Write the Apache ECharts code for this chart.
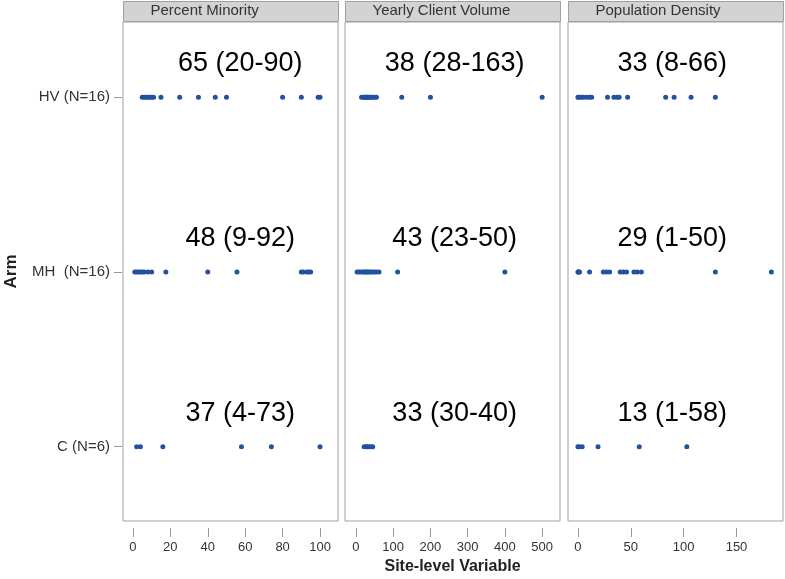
<!DOCTYPE html>
<html><head><meta charset="utf-8">
<script src="https://cdn.jsdelivr.net/npm/echarts@6/dist/echarts.min.js"></script>
<style>html,body{margin:0;padding:0;background:#fff}#c{width:785px;height:579px}</style>
</head><body><div id="c"></div>
<script>
// Categories (bottom to top)
const arms = ['C (N=6)', 'MH  (N=16)', 'HV (N=16)'];
const panelTitles = ['Percent Minority', 'Yearly Client Volume', 'Population Density'];
const xTickLabels1 = [0, 20, 40, 60, 80, 100];
const xTickLabels2 = [0, 100, 200, 300, 400, 500];
const xTickLabels3 = [0, 50, 100, 150];

// Percent Minority
const pmHV = [5, 6, 7, 8, 9, 10, 11, 15, 25, 35, 44, 50, 80, 90, 99, 100];
const pmMH = [1, 2, 3, 4, 5, 6, 8, 10, 17.6, 40, 55.6, 90, 91, 93, 94, 95];
const pmC = [2, 4, 16, 58, 74, 100];
// Yearly Client Volume
const ycHV = [15, 20, 22, 25, 28, 30, 32, 35, 38, 40, 45, 50, 55, 123, 200, 500];
const ycMH = [3, 8, 12, 18, 22, 25, 28, 32, 36, 40, 45, 50, 55, 62, 112, 400];
const ycC = [22, 28, 30, 35, 40, 45];
// Population Density
const pdHV = [0, 1, 3, 5, 8, 11, 13, 28, 34, 37, 39, 47, 83, 91, 107, 130];
const pdMH = [0, 0.5, 1, 1.5, 11, 24, 27, 30, 40, 43, 46, 53, 56, 60, 130, 183];
const pdC = [0, 1, 4, 19, 58, 103];

// Annotations (per panel: C, MH, HV)
const annPM = ['37 (4-73)', '48 (9-92)', '65 (20-90)'];
const annYC = ['33 (30-40)', '43 (23-50)', '38 (28-163)'];
const annPD = ['13 (1-58)', '29 (1-50)', '33 (8-66)'];

const panels = [
  {title: panelTitles[0], ticks: xTickLabels1, min: -5.3, max: 109.6, data: [pmC, pmMH, pmHV], ann: annPM, shift: 0.045},
  {title: panelTitles[1], ticks: xTickLabels2, min: -29.4, max: 548, data: [ycC, ycMH, ycHV], ann: annYC, shift: 0.01},
  {title: panelTitles[2], ticks: xTickLabels3, min: -9.4, max: 194, data: [pdC, pdMH, pdHV], ann: annPD, shift: -0.015}
];
const gridLefts = [123, 345, 568];
const gridWidth = 215;
const gridTop = 22, gridHeight = 499;
const yMin = -0.425, yMax = 2.43;
const dotColor = '#2350a0';
const font = 'Liberation Sans, Arial, sans-serif';

const grid = [], xAxis = [], yAxis = [], series = [], graphic = [];
panels.forEach((p, i) => {
  grid.push({left: gridLefts[i], top: gridTop, width: gridWidth, height: gridHeight,
    outerBoundsMode: 'none', containLabel: false,
    show: true, borderColor: '#a0a0a0', borderWidth: 1, backgroundColor: '#fff'});
  xAxis.push({type: 'value', gridIndex: i, min: p.min, max: p.max, offset: 7, position: 'bottom',
    axisLine: {show: false, onZero: false}, splitLine: {show: false},
    axisTick: {show: true, length: 9, customValues: p.ticks, lineStyle: {color: '#999'}},
    axisLabel: {customValues: p.ticks, margin: 13, color: '#333', fontSize: 13, fontFamily: font},
    name: i === 1 ? 'Site-level Variable' : '', nameLocation: 'middle', nameGap: 28,
    nameTextStyle: {fontWeight: 'bold', fontSize: 16, color: '#222', fontFamily: font}
  });
  yAxis.push({type: 'value', gridIndex: i, min: yMin, max: yMax, offset: 1, position: 'left',
    axisLine: {show: false, onZero: false}, splitLine: {show: false},
    axisTick: {show: i === 0, length: 8, customValues: [0, 1, 2], lineStyle: {color: '#999'}},
    axisLabel: {show: i === 0, customValues: [0, 1, 2], margin: 12, color: '#333', fontSize: 15, fontFamily: font,
      formatter: v => arms[Math.round(v)] || ''},
    name: i === 0 ? 'Arm' : '', nameLocation: 'middle', nameGap: 102, nameRotate: 90,
    nameTextStyle: {fontWeight: 'bold', fontSize: 17, color: '#222', fontFamily: font}
  });
  p.data.forEach((arr, k) => {
    series.push({type: 'scatter', xAxisIndex: i, yAxisIndex: i, symbolSize: 5,
      itemStyle: {color: dotColor, opacity: 1},
      data: arr.map(v => [v, k])});
  });
  const center = (p.min + p.max) / 2;
  series.push({type: 'scatter', xAxisIndex: i, yAxisIndex: i, symbolSize: 1, silent: true,
    itemStyle: {color: 'rgba(0,0,0,0)'},
    label: {show: true, position: 'inside', color: '#000', fontSize: 27, fontFamily: font,
      textBorderWidth: 0, opacity: 1,
      formatter: prm => p.ann[prm.dataIndex]},
    data: p.ann.map((a, k) => [center + (p.max - p.min) * p.shift, k + 0.19])});
  graphic.push({type: 'rect', left: gridLefts[i], top: 1, shape: {width: gridWidth, height: 20},
    style: {fill: '#d3d3d3', stroke: '#a0a0a0', lineWidth: 1}});
  graphic.push({type: 'text', left: gridLefts[i] + gridWidth / 2 - 80, top: 3,
    style: {text: p.title, fill: '#333', font: '15px ' + font, width: 160, align: 'center'}});
});

const chart = echarts.init(document.getElementById('c'));
chart.setOption({animation: false, backgroundColor: '#fff', grid, xAxis, yAxis, series, graphic});
</script></body></html>
